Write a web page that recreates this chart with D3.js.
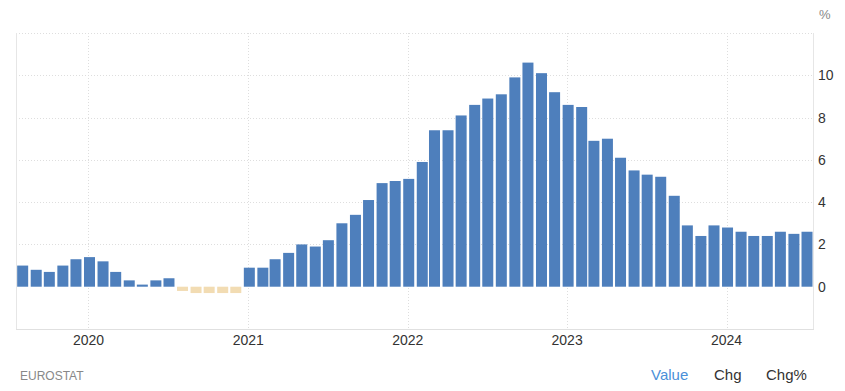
<!DOCTYPE html>
<html>
<head>
<meta charset="utf-8">
<script src="https://cdn.jsdelivr.net/npm/d3@7"></script>
<style>
  body { margin: 0; background: #fff; }
  svg { font-family: "Liberation Sans", Arial, sans-serif; }
</style>
</head>
<body>
<div id="chart"></div>
<script>
// monthly euro area inflation rate, Aug 2019 - Jul 2024 (%)
const months = d3.timeMonths(new Date(2019, 7, 1), new Date(2024, 7, 1));
const values = [
  1.0, 0.8, 0.7, 1.0, 1.3,
  1.4, 1.2, 0.7, 0.3, 0.1, 0.3, 0.4, -0.2, -0.3, -0.3, -0.3, -0.3,
  0.9, 0.9, 1.3, 1.6, 2.0, 1.9, 2.2, 3.0, 3.4, 4.1, 4.9, 5.0,
  5.1, 5.9, 7.4, 7.4, 8.1, 8.6, 8.9, 9.1, 9.9, 10.6, 10.1, 9.2,
  8.6, 8.5, 6.9, 7.0, 6.1, 5.5, 5.3, 5.2, 4.3, 2.9, 2.4, 2.9,
  2.8, 2.6, 2.4, 2.4, 2.6, 2.5, 2.6
];
const yTicks = [0, 2, 4, 6, 8, 10];
const yGrid = [2, 4, 6, 8, 10, 12];
const xTicks = [2020, 2021, 2022, 2023, 2024];
const buttons = ["Value", "Chg", "Chg%"];

const data = months.map((d, i) => ({ date: d, value: values[i] }));

const width = 845, height = 391;
const plotL = 16, plotR = 813, plotT = 33, plotB = 329;

const svg = d3.select("#chart").append("svg")
  .attr("width", width)
  .attr("height", height);

const x = d3.scaleTime()
  .domain([new Date(2019, 6, 19), new Date(2024, 6, 17)])
  .range([plotL, plotR]);

const y = d3.scaleLinear()
  .domain([-2, 12])
  .range([plotB, plotT]);

// horizontal grid
svg.selectAll(".hgrid")
  .data(yGrid)
  .enter().append("line")
  .attr("x1", plotL).attr("x2", plotR)
  .attr("y1", d => Math.round(y(d)) + 0.5)
  .attr("y2", d => Math.round(y(d)) + 0.5)
  .attr("stroke", "#dedede")
  .attr("stroke-dasharray", "1,2");

// vertical grid at years
svg.selectAll(".vgrid")
  .data(xTicks)
  .enter().append("line")
  .attr("x1", d => Math.round(x(new Date(d, 0, 1))) + 0.5)
  .attr("x2", d => Math.round(x(new Date(d, 0, 1))) + 0.5)
  .attr("y1", plotT).attr("y2", plotB)
  .attr("stroke", "#dedede")
  .attr("stroke-dasharray", "1,2");

// frame lines
svg.append("line")
  .attr("x1", plotL + 0.5).attr("x2", plotL + 0.5)
  .attr("y1", plotT).attr("y2", plotB)
  .attr("stroke", "#e6e6e6");
svg.append("line")
  .attr("x1", plotR + 0.5).attr("x2", plotR + 0.5)
  .attr("y1", plotT).attr("y2", plotB)
  .attr("stroke", "#e6e6e6");
svg.append("line")
  .attr("x1", plotL).attr("x2", plotR + 1)
  .attr("y1", plotB + 0.5).attr("y2", plotB + 0.5)
  .attr("stroke", "#e0e0e0");

// bars
const barW = 11;
svg.selectAll(".bar")
  .data(data)
  .enter().append("rect")
  .attr("class", "bar")
  .attr("x", d => x(d.date) - barW / 2 + 1)
  .attr("width", barW)
  .attr("y", d => y(Math.max(0, d.value)))
  .attr("height", d => Math.abs(y(d.value) - y(0)))
  .attr("fill", d => d.value < 0 ? "#f2dcb3" : "#4e7fbc");

// y axis labels on the right
svg.selectAll(".ylab")
  .data(yTicks)
  .enter().append("text")
  .attr("x", 818)
  .attr("y", d => y(d) + 5)
  .attr("font-size", 14)
  .attr("fill", "#333")
  .text(d => d);

svg.append("text")
  .attr("x", 819).attr("y", 19)
  .attr("font-size", 13)
  .attr("fill", "#888")
  .text("%");

// x axis labels
svg.selectAll(".xlab")
  .data(xTicks)
  .enter().append("text")
  .attr("x", d => x(new Date(d, 0, 1)))
  .attr("y", 345)
  .attr("text-anchor", "middle")
  .attr("font-size", 14)
  .attr("fill", "#333")
  .text(d => d);

// source
svg.append("text")
  .attr("x", 20).attr("y", 380)
  .attr("font-size", 12)
  .attr("fill", "#888")
  .text("EUROSTAT");

// buttons
const btnX = [651, 714, 766];
svg.selectAll(".btn")
  .data(buttons)
  .enter().append("text")
  .attr("x", (d, i) => btnX[i])
  .attr("y", 380)
  .attr("font-size", 15)
  .attr("fill", (d, i) => i === 0 ? "#4a90d9" : "#333")
  .text(d => d);
</script>
</body>
</html>
